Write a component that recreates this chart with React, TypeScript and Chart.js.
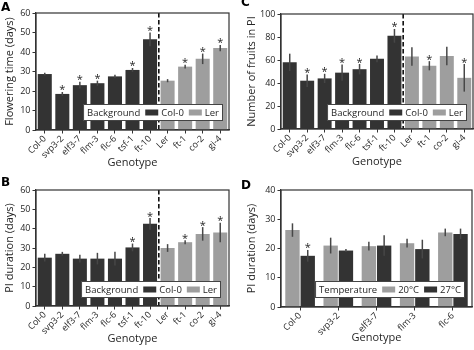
import { useEffect, useRef } from "react";
import { Chart, registerables } from "chart.js";

Chart.register(...registerables);

const FONT = "'Open Sans', 'DejaVu Sans', sans-serif";
const DARK = "#333333";
const LIGHT = "#9e9e9e";
const INK = "#262626";
const SPINE = "#333333";
const ERR = "#474747";

// ---------- data ----------
const genotypes = ["Col-0", "svp3-2", "elf3-7", "flm-3", "flc-6", "tsf-1", "ft-10", "Ler", "ft-1", "co-2", "gi-4"];
const background = ["Col-0", "Col-0", "Col-0", "Col-0", "Col-0", "Col-0", "Col-0", "Ler", "Ler", "Ler", "Ler"];

const floweringTime = [28.7, 18.5, 23.0, 24.0, 27.5, 30.8, 46.5, 25.3, 32.5, 36.5, 42.0];
const floweringTimeErr = [0.7, 1.0, 1.7, 1.3, 0.8, 1.0, 3.5, 0.8, 1.0, 2.7, 1.6];
const floweringTimeSig = [false, true, true, true, false, true, true, false, true, true, true];

const fruitsInPI = [58, 42, 44, 49, 52, 61, 81, 63, 55, 63.5, 44.5];
const fruitsInPIErr = [7.5, 5.5, 4, 7, 4.5, 3, 6, 8, 4, 8, 12];
const fruitsInPISig = [false, true, true, true, true, false, true, false, true, false, true];

const piDuration = [25, 27, 24.5, 24.5, 24.5, 30.3, 42.5, 30, 33, 37.3, 38];
const piDurationErr = [2, 1, 2, 3, 3.5, 2, 3, 2, 1, 3.5, 5];
const piDurationSig = [false, false, false, false, false, true, true, false, true, true, true];

const tempGenotypes = ["Col-0", "svp3-2", "elf3-7", "flm-3", "flc-6"];
const piDuration20C = [26.3, 21, 20.8, 21.8, 25.5];
const piDuration20CErr = [2.3, 2.7, 1.5, 1.5, 1.3];
const piDuration27C = [17.5, 19.3, 21, 19.8, 25];
const piDuration27CErr = [2, 0.5, 3.5, 3.2, 1.8];
const piDuration27CSig = [true, false, false, false, false];

const bgColors = background.map((b) => (b === "Col-0" ? DARK : LIGHT));

// ---------- plugin ----------
const annotate = {
  id: "annotate",
  afterDatasetsDraw(chart: any, _args: any, opts: any) {
    const { ctx, chartArea: a, scales } = chart;
    const y = scales.y;
    ctx.save();
    // error bars & stars
    (opts.series || []).forEach((s: any, di: number) => {
      const meta = chart.getDatasetMeta(di);
      meta.data.forEach((bar: any, i: number) => {
        const v = s.values[i];
        const e = s.errors[i];
        const top = y.getPixelForValue(v + e);
        const bot = y.getPixelForValue(v - e);
        ctx.strokeStyle = ERR;
        ctx.lineWidth = 1.5;
        ctx.beginPath();
        ctx.moveTo(bar.x, top);
        ctx.lineTo(bar.x, bot);
        ctx.stroke();
        if (s.sig && s.sig[i]) {
          ctx.fillStyle = INK;
          ctx.font = `11px ${FONT}`;
          ctx.textAlign = "center";
          ctx.textBaseline = "alphabetic";
          ctx.fillText("*", bar.x, top + 1.5);
        }
      });
    });
    // divider
    if (opts.dividerAfter != null) {
      const meta = chart.getDatasetMeta(0);
      const x = (meta.data[opts.dividerAfter].x + meta.data[opts.dividerAfter + 1].x) / 2;
      ctx.strokeStyle = "#111";
      ctx.lineWidth = 1.6;
      ctx.setLineDash([4.5, 2.5]);
      ctx.beginPath();
      ctx.moveTo(x, a.top);
      ctx.lineTo(x, a.bottom);
      ctx.stroke();
      ctx.setLineDash([]);
    }
    // spines
    ctx.strokeStyle = SPINE;
    ctx.lineWidth = 1.2;
    ctx.strokeRect(a.left, a.top, a.right - a.left, a.bottom - a.top);
    // legend
    const lg = opts.legend;
    if (lg) {
      ctx.font = `9.5px ${FONT}`;
      const pad = 4, gap = 5, sw = 13, sh = 6, sg = 3, h = 17;
      let w = pad * 2 + ctx.measureText(lg.title).width;
      lg.items.forEach((it: any) => {
        w += gap + sw + sg + ctx.measureText(it.label).width;
      });
      const x0 = a.right - lg.rightGap - w;
      const y0 = a.bottom - lg.bottomGap - h;
      ctx.fillStyle = "#fff";
      ctx.fillRect(x0, y0, w, h);
      ctx.strokeStyle = "#444";
      ctx.lineWidth = 1;
      ctx.strokeRect(x0 + 0.5, y0 + 0.5, w - 1, h - 1);
      const cy = y0 + h / 2;
      ctx.textBaseline = "middle";
      ctx.textAlign = "left";
      ctx.fillStyle = INK;
      let x = x0 + pad;
      ctx.fillText(lg.title, x, cy + 0.5);
      x += ctx.measureText(lg.title).width;
      lg.items.forEach((it: any) => {
        x += gap;
        ctx.fillStyle = it.color;
        ctx.fillRect(x, cy - sh / 2, sw, sh);
        x += sw + sg;
        ctx.fillStyle = INK;
        ctx.fillText(it.label, x, cy + 0.5);
        x += ctx.measureText(it.label).width;
      });
    }
    // panel letter
    if (opts.letter) {
      ctx.fillStyle = "#000";
      ctx.font = `bold 12px 'DejaVu Sans', sans-serif`;
      ctx.textAlign = "left";
      ctx.textBaseline = "top";
      ctx.fillText(opts.letter.text, opts.letter.x, opts.letter.y);
    }
    ctx.restore();
  },
};

type PanelProps = {
  left: number;
  top: number;
  config: any;
};

function Panel({ left, top, config }: PanelProps) {
  const ref = useRef<HTMLCanvasElement | null>(null);
  useEffect(() => {
    if (!ref.current) return;
    const chart = new Chart(ref.current, config);
    return () => chart.destroy();
  }, [config]);
  return (
    <canvas
      ref={ref}
      width={237}
      height={175}
      style={{ position: "absolute", left, top, width: 237, height: 175 }}
    />
  );
}

function makeConfig(p: {
  labels: string[];
  datasets: any[];
  series: any[];
  yTitle: string;
  yMax: number;
  yStep: number;
  yWidth: number;
  xHeight: number;
  padTop: number;
  padRight: number;
  yTitlePad: number;
  xTitlePad: number;
  divider: number | null;
  legend: any;
  letter: any;
}) {
  return {
    type: "bar",
    data: { labels: p.labels, datasets: p.datasets },
    plugins: [annotate],
    options: {
      responsive: false,
      animation: false,
      events: [],
      layout: { padding: { top: p.padTop, right: p.padRight, left: 0, bottom: 0 } },
      plugins: {
        legend: { display: false },
        tooltip: { enabled: false },
        annotate: { series: p.series, dividerAfter: p.divider, legend: p.legend, letter: p.letter },
      },
      scales: {
        x: {
          offset: true,
          grid: { display: true, offset: false, drawOnChartArea: false, drawTicks: true, tickLength: 3.5, color: SPINE, lineWidth: 1 },
          border: { display: true, color: SPINE, width: 1.2 },
          ticks: {
            autoSkip: false,
            minRotation: 45,
            maxRotation: 45,
            padding: 0,
            color: INK,
            font: { family: FONT, size: 9 },
          },
          title: {
            display: true,
            text: "Genotype",
            color: INK,
            font: { family: FONT, size: 11 },
            padding: { top: 0, bottom: p.xTitlePad },
          },
          afterFit: (s: any) => {
            s.height = p.xHeight;
          },
        },
        y: {
          min: 0,
          max: p.yMax,
          grid: { display: true, drawOnChartArea: false, drawTicks: true, tickLength: 3.5, color: SPINE, lineWidth: 1 },
          border: { display: true, color: SPINE, width: 1.2 },
          ticks: {
            stepSize: p.yStep,
            padding: 2,
            color: INK,
            font: { family: FONT, size: 9 },
          },
          title: {
            display: true,
            text: p.yTitle,
            color: INK,
            font: { family: FONT, size: 11 },
            padding: { top: p.yTitlePad, bottom: 0 },
          },
          afterFit: (s: any) => {
            s.width = p.yWidth;
          },
        },
      },
    },
  };
}

const configA = makeConfig({
  labels: genotypes,
  datasets: [{ data: floweringTime, backgroundColor: bgColors, barPercentage: 0.8, categoryPercentage: 1 }],
  series: [{ values: floweringTime, errors: floweringTimeErr, sig: floweringTimeSig }],
  yTitle: "Flowering time (days)",
  yMax: 60,
  yStep: 10,
  yWidth: 36,
  xHeight: 45,
  padTop: 13,
  padRight: 8,
  yTitlePad: 3.5,
  xTitlePad: 5.5,
  divider: 6,
  legend: { title: "Background", items: [{ label: "Col-0", color: DARK }, { label: "Ler", color: LIGHT }], rightGap: 6, bottomGap: 9 },
  letter: { text: "A", x: 1, y: 2 },
});

const configC = makeConfig({
  labels: genotypes,
  datasets: [{ data: fruitsInPI, backgroundColor: bgColors, barPercentage: 0.8, categoryPercentage: 1 }],
  series: [{ values: fruitsInPI, errors: fruitsInPIErr, sig: fruitsInPISig }],
  yTitle: "Number of fruits in PI",
  yMax: 100,
  yStep: 20,
  yWidth: 44,
  xHeight: 46,
  padTop: 14,
  padRight: 1,
  yTitlePad: 8.5,
  xTitlePad: 6.5,
  divider: 6,
  legend: { title: "Background", items: [{ label: "Col-0", color: DARK }, { label: "Ler", color: LIGHT }], rightGap: 6, bottomGap: 8 },
  letter: { text: "C", x: 4, y: -3 },
});

const configB = makeConfig({
  labels: genotypes,
  datasets: [{ data: piDuration, backgroundColor: bgColors, barPercentage: 0.8, categoryPercentage: 1 }],
  series: [{ values: piDuration, errors: piDurationErr, sig: piDurationSig }],
  yTitle: "PI duration (days)",
  yMax: 60,
  yStep: 10,
  yWidth: 36,
  xHeight: 44,
  padTop: 15,
  padRight: 8,
  yTitlePad: 3.5,
  xTitlePad: 4.5,
  divider: 6,
  legend: { title: "Background", items: [{ label: "Col-0", color: DARK }, { label: "Ler", color: LIGHT }], rightGap: 8, bottomGap: 8 },
  letter: { text: "B", x: 1, y: 2 },
});

const configD = makeConfig({
  labels: tempGenotypes,
  datasets: [
    { data: piDuration20C, backgroundColor: LIGHT, barPercentage: 0.94, categoryPercentage: 0.8 },
    { data: piDuration27C, backgroundColor: DARK, barPercentage: 0.94, categoryPercentage: 0.8 },
  ],
  series: [
    { values: piDuration20C, errors: piDuration20CErr, sig: null },
    { values: piDuration27C, errors: piDuration27CErr, sig: piDuration27CSig },
  ],
  yTitle: "PI duration (days)",
  yMax: 40,
  yStep: 10,
  yWidth: 44,
  xHeight: 43,
  padTop: 15,
  padRight: 2,
  yTitlePad: 8.5,
  xTitlePad: 5.5,
  divider: null,
  legend: { title: "Temperature", items: [{ label: "20°C", color: LIGHT }, { label: "27°C", color: DARK }], rightGap: 7, bottomGap: 9 },
  letter: { text: "D", x: 4, y: 4.5 },
});

export default function App() {
  return (
    <div style={{ position: "fixed", left: 0, top: 0, width: 474, height: 350, background: "#fff", overflow: "hidden" }}>
      <Panel left={0} top={0} config={configA} />
      <Panel left={237} top={0} config={configC} />
      <Panel left={0} top={175} config={configB} />
      <Panel left={237} top={175} config={configD} />
    </div>
  );
}
